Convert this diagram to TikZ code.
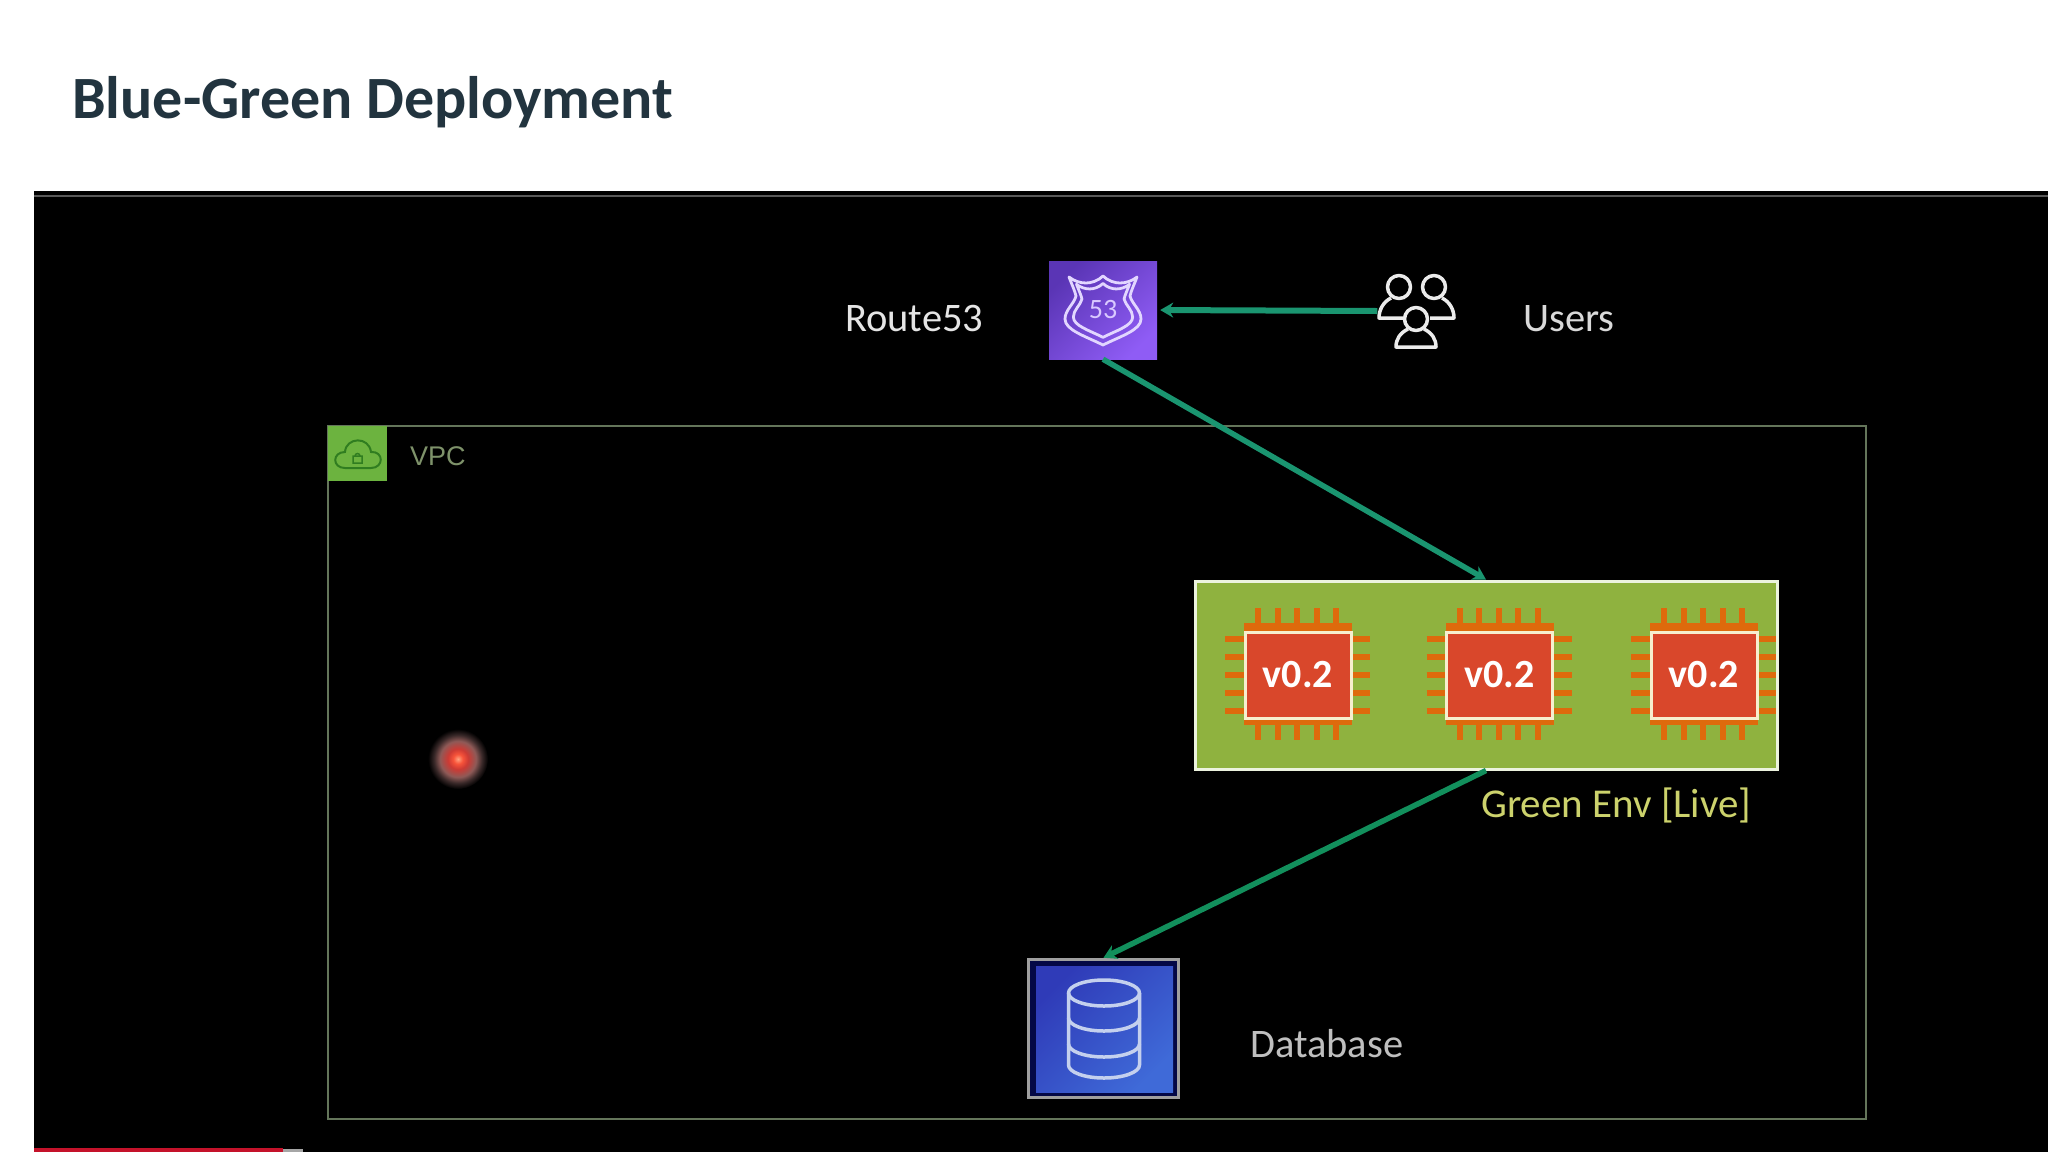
\documentclass[tikz,border=0pt]{standalone}
\usepackage{fontspec}
\usepackage{tikz}
\usetikzlibrary{arrows.meta,positioning}
\setmainfont{Carlito}
\newfontfamily\vpcfont{Liberation Sans}

\definecolor{titleink}{HTML}{22343F}
\definecolor{linkgreen}{HTML}{1A9570}
\definecolor{linkdark}{HTML}{128F5C}
\definecolor{vpcline}{HTML}{64755A}
\definecolor{vpcgreen}{HTML}{6CB33F}
\definecolor{vpcdark}{HTML}{307D20}
\definecolor{vpctext}{HTML}{7E926A}
\definecolor{envgreen}{HTML}{8FB23F}
\definecolor{envedge}{HTML}{ECF3DE}
\definecolor{envtext}{HTML}{CCD26C}
\definecolor{chipred}{HTML}{D9472B}
\definecolor{chipcream}{HTML}{F7EFCF}
\definecolor{pinorange}{HTML}{DE6A0C}
\definecolor{rtlow}{HTML}{5A35B5}
\definecolor{rthigh}{HTML}{8F5CF5}
\definecolor{rtline}{HTML}{E2D6FF}
\definecolor{rttext}{HTML}{D9C8FF}
\definecolor{dblow}{HTML}{2F3BB8}
\definecolor{dbhigh}{HTML}{3F6AD8}
\definecolor{dbline}{HTML}{C4D0EE}
\definecolor{dbdark}{HTML}{040846}
\definecolor{barred}{HTML}{C4122A}
\definecolor{glowa}{HTML}{FFA380}
\definecolor{glowb}{HTML}{F8543A}
\definecolor{glowc}{HTML}{CC3A34}
\definecolor{glowd}{HTML}{8F5A57}
\definecolor{glowe}{HTML}{3A2929}

\pgfdeclareradialshading{pointerglow}{\pgfpoint{0bp}{0bp}}{
    color(0bp)=(glowa);
    color(4bp)=(glowb);
    color(8.5bp)=(glowc);
    color(15bp)=(glowd);
    color(20bp)=(glowe);
    color(25bp)=(black);
    color(50bp)=(black)
}

\tikzset{
    label/.style={anchor=base west,inner sep=0pt,font=\fontsize{40.5}{40}\selectfont},
    link/.style={-{Stealth[length=13pt,width=15pt]},line width=5.5pt,draw=linkgreen},
    chipbox/.style={draw=chipcream,line width=3pt,fill=chipred,text=white,
        minimum width=106pt,minimum height=86pt,inner sep=0pt,
        font=\fontsize{40}{40}\selectfont\bfseries},
    iconline/.style={draw=#1,line width=3.5pt,line join=round}
}

\newcommand{\shieldpath}{
    (0,-34) .. controls (5,-29) and (12,-27) .. (17,-27)
    .. controls (23,-27) and (29,-29) .. (34,-33)
    .. controls (31,-25) and (28,-19) .. (27,-14)
    .. controls (29,-6) and (38,0) .. (38,9)
    .. controls (38,20) and (18,26) .. (0,35)
    .. controls (-18,26) and (-38,20) .. (-38,9)
    .. controls (-38,0) and (-29,-6) .. (-27,-14)
    .. controls (-28,-19) and (-31,-25) .. (-34,-33)
    .. controls (-29,-29) and (-23,-27) .. (-17,-27)
    .. controls (-12,-27) and (-5,-29) .. (0,-34) -- cycle
}

\begin{document}
\begin{tikzpicture}[x=1pt,y=-1pt]
    \useasboundingbox (0,0) rectangle (2048,1152);
    \fill[white] (0,0) rectangle (2048,1152);

    % Slide title and video frame
    \node[label,font=\fontsize{60}{60}\selectfont\bfseries,text=titleink] (title) at (72,118) {Blue-Green Deployment};
    \fill[black] (34,191) rectangle (2048,1152);
    \draw[line width=2.5pt,draw=black!65] (34,196) -- (2048,196);
    \fill[barred] (34,1148) rectangle (283,1152);
    \fill[gray!70] (283,1149) rectangle (303,1152);

    % VPC
    \draw[line width=2.5pt,draw=vpcline] (328,426) rectangle (1866,1119);
    \node[fill=vpcgreen,minimum width=59pt,minimum height=55pt,inner sep=0pt] (vpcicon) at (357.5,453.5) {};
    \draw[line width=2pt,draw=vpcdark]
        (345,468) .. controls (332,468) and (332,452) .. (345,452)
        .. controls (346,437) and (369,436) .. (371,452)
        .. controls (384,451) and (384,468) .. (371,468) -- cycle;
    \draw[line width=1.5pt,draw=vpcdark]
        (353,456) rectangle (362,463) (355,456) arc (180:360:2.5);
    \node[label,font=\vpcfont\fontsize{27}{27}\selectfont,text=vpctext] (vpclabel) at (410,465) {VPC};

    % Route53
    \node[minimum width=108pt,minimum height=98pt,inner sep=0pt,text=rttext,
        left color=rtlow,right color=rthigh,shading angle=45,
        font=\fontsize{28}{28}\selectfont] (route53) at (1103,310) {53};
    \foreach \s in {1,0.78} {
        \begin{scope}[shift={(1103,310)},scale=\s]
            \draw[line width=2.8pt,draw=rtline,line join=round] \shieldpath;
        \end{scope}
    }
    \node[label,text=white!90!black] (route53label) at (845,331) {Route53};

    % Users
    \node[minimum width=77pt,minimum height=73pt,inner sep=0pt] (users) at (1416,311) {};
    \draw[iconline=white!92!black] (1399,287) circle (11.5) (1434,287) circle (11.5) (1416,319) circle (11.5);
    \draw[iconline=white!92!black] (1391,298) .. controls (1383,302) and (1379,310) .. (1379,318) -- (1403,318);
    \draw[iconline=white!92!black] (1442,298) .. controls (1450,302) and (1454,310) .. (1454,318) -- (1430,318);
    \draw[iconline=white!92!black] (1408,329) .. controls (1400,333) and (1396,339) .. (1396,347)
        -- (1436,347) .. controls (1436,339) and (1432,333) .. (1424,329);
    \node[label,text=white!85!black] (userslabel) at (1523,331) {Users};

    % Green environment with its instances
    \node[draw=envedge,fill=envgreen,line width=3pt,minimum width=582pt,minimum height=188pt,inner sep=0pt] (greenenv) at (1486,675) {};
    \foreach \n/\cx in {1/1298,2/1499.5,3/1704} {
        \fill[pinorange] (\cx-54,623) rectangle (\cx+54,725);
        \foreach \k in {-2,...,2} {
            \draw[pinorange,line width=6pt] (\cx-1+\k*19.5,608) -- (\cx-1+\k*19.5,740);
            \draw[pinorange,line width=6pt] (\cx-73,675+\k*18) -- (\cx+72,675+\k*18);
        }
        \node[chipbox] (chip\n) at (\cx,675) {v0.2};
    }
    \node[label,font=\fontsize{41}{41}\selectfont,text=envtext] (greenlabel) at (1481,817) {Green Env [Live]};

    % Database
    \node[draw=gray!75,line width=3.5pt,fill=dbdark,minimum width=150pt,minimum height=138pt,inner sep=0pt] (database) at (1103.5,1028.5) {};
    \node[minimum width=137pt,minimum height=126pt,inner sep=0pt,
        left color=dblow,right color=dbhigh,shading angle=45] (dbfill) at (1104.5,1029) {};
    \draw[iconline=dbline] (1104,993) ellipse (35.5 and 13);
    \draw[iconline=dbline] (1068.5,993) -- (1068.5,1065)
        arc (180:0:35.5 and 13) -- (1139.5,993);
    \draw[iconline=dbline] (1068.5,1018) arc (180:0:35.5 and 13);
    \draw[iconline=dbline] (1068.5,1044) arc (180:0:35.5 and 13);
    \node[label,text=white!75!black] (dblabel) at (1250,1057) {Database};

    % Connectors
    \draw[link,line width=6pt,shorten >=3pt] (users.west) -- (route53.east);
    \draw[link] (route53.south) -- (greenenv.north);
    \draw[link,draw=linkdark] (greenenv.south) -- (database.north);

    % Pointer
    \shade[shading=pointerglow] (458,759) circle (30);
\end{tikzpicture}
\end{document}
